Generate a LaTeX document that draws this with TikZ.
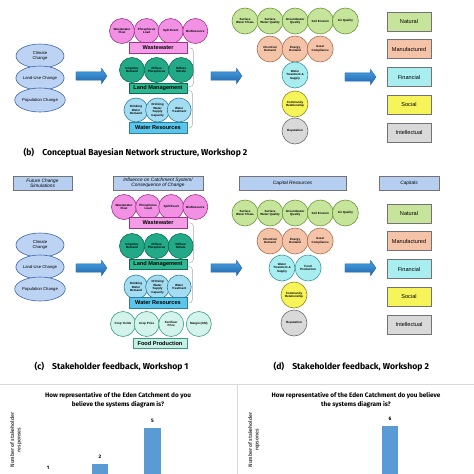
\documentclass[tikz,border=0pt]{standalone}
\usepackage{fontspec}
\setmainfont{Liberation Sans}
\newfontfamily\dinfont{Fira Sans}
\usepackage{xcolor}
\usepackage{tikz}
\usetikzlibrary{positioning,shapes.geometric,shapes.arrows}

\definecolor{drvfill}{HTML}{BDD3F3}
\definecolor{drvline}{HTML}{3F66A8}
\definecolor{pinkfill}{HTML}{F290E4}
\definecolor{pinkbox}{HTML}{F39DE7}
\definecolor{pinkline}{HTML}{A0308E}
\definecolor{tealfill}{HTML}{22A987}
\definecolor{tealbox}{HTML}{2DB891}
\definecolor{tealline}{HTML}{0E6A52}
\definecolor{aquafill}{HTML}{A4DDF2}
\definecolor{aquabox}{HTML}{5CC6EA}
\definecolor{aqualine}{HTML}{2B7FA3}
\definecolor{mintfill}{HTML}{D3F4EA}
\definecolor{mintbox}{HTML}{C4EFE2}
\definecolor{mintline}{HTML}{3B9C84}
\definecolor{natfill}{HTML}{C6E59B}
\definecolor{natline}{HTML}{6A963A}
\definecolor{manfill}{HTML}{F5C4A8}
\definecolor{manline}{HTML}{A8704F}
\definecolor{finfill}{HTML}{A8EEF0}
\definecolor{finline}{HTML}{3A97A3}
\definecolor{socfill}{HTML}{F7F45A}
\definecolor{socline}{HTML}{8E8B1E}
\definecolor{intfill}{HTML}{D9D9D9}
\definecolor{intline}{HTML}{6E6E6E}
\definecolor{hdrfill}{HTML}{B6CFF1}
\definecolor{arrlight}{HTML}{4AA3E6}
\definecolor{arrdark}{HTML}{1D64A8}
\definecolor{barblue}{HTML}{5B9BD5}

\begin{document}
\begin{tikzpicture}[x=1pt, y=-1pt,
  every node/.style={font=\fontsize{5}{6}\selectfont},
  driver/.style={ellipse, draw=drvline, fill=drvfill, line width=0.6pt,
    minimum width=48pt, minimum height=24pt, inner sep=0pt, align=center,
    font=\fontsize{4.2}{4.8}\selectfont},
  var/.style={circle, line width=0.6pt, minimum size=25pt, inner sep=0pt,
    align=center, font=\bfseries\fontsize{3}{3.5}\selectfont},
  wwvar/.style={var, fill=pinkfill, draw=pinkline},
  lmvar/.style={var, fill=tealfill, draw=tealline},
  wrvar/.style={var, fill=aquafill, draw=aqualine, minimum size=24pt},
  fpvar/.style={var, fill=mintfill, draw=mintline},
  natvar/.style={var, fill=natfill, draw=natline, minimum size=26pt},
  manvar/.style={var, fill=manfill, draw=manline, minimum size=26pt},
  finvar/.style={var, fill=finfill, draw=finline, minimum size=26pt},
  socvar/.style={var, fill=socfill, draw=socline, minimum size=26pt},
  intvar/.style={var, fill=intfill, draw=intline, minimum size=26pt},
  group/.style={line width=0.6pt, minimum width=58pt, minimum height=10.5pt,
    inner sep=0pt, font=\bfseries\fontsize{5.6}{6}\selectfont},
  capital/.style={draw=black!55, line width=0.8pt, minimum width=44pt,
    minimum height=19pt, inner sep=0pt, font=\fontsize{5.6}{6}\selectfont},
  header/.style={draw=black!55, fill=hdrfill, line width=0.6pt, inner sep=0pt,
    minimum height=14pt, align=center, font=\itshape\fontsize{4.8}{5.4}\selectfont},
  bigarr/.style={single arrow, single arrow head extend=3.5pt,
    single arrow tip angle=110, single arrow head indent=0pt,
    minimum height=31pt, inner sep=0pt, line width=0.4pt,
    draw=arrdark, top color=arrlight, bottom color=arrdark},
  link/.style={draw=black!35, line width=0.4pt, rounded corners=3pt},
  caption/.style={anchor=west, font=\dinfont\bfseries\fontsize{8.6}{10}\selectfont},
  qtitle/.style={align=center, font=\dinfont\bfseries\fontsize{6.4}{9.6}\selectfont},
  axlabel/.style={rotate=90, align=center, text=black!70,
    font=\dinfont\bfseries\fontsize{5.2}{6.6}\selectfont},
  barval/.style={font=\dinfont\bfseries\fontsize{5}{6}\selectfont},
  bar/.style={fill=barblue}
]
  \useasboundingbox (0,0) rectangle (474,474);

  % (b) drivers
  \node[driver] (bClim) at (40,56) {Climate\\Change};
  \node[driver] (bLand) at (40,78) {Land-Use Change};
  \node[driver] (bPop) at (40,100) {Population Change};
  \node[bigarr] (bArr1) at (90,76) {\rule{0pt}{8pt}};

  % (b) catchment system
  \node[wwvar] (bWw1) at (122,31) {Wastewater\\Flow};
  \node[wwvar, right=-1pt of bWw1] (bWw2) {Phosphorus\\Load};
  \node[wwvar, right=-1.5pt of bWw2] (bWw3) {Spill Event};
  \node[wwvar, right=-1pt of bWw3] (bWw4) {BioResource};
  \node[group, fill=pinkbox, draw=pinkline] (bWw) at (158,48) {Wastewater};
  \node[lmvar] (bLm1) at (132,70) {Irrigation\\Demand};
  \node[lmvar, right=-1pt of bLm1] (bLm2) {Diffuse\\Phosphorus};
  \node[lmvar, right=-1pt of bLm2] (bLm3) {Diffuse\\Nitrate};
  \node[group, fill=tealbox, draw=tealline] (bLm) at (158,88.5) {Land Management};
  \node[wrvar] (bWr1) at (136,110) {Drinking\\Water\\Demand};
  \node[wrvar, right=-3pt of bWr1] (bWr2) {Drinking\\Water\\Supply\\Capacity};
  \node[wrvar, right=-3pt of bWr2] (bWr3) {Water\\Treatment};
  \node[group, fill=aquabox, draw=aqualine] (bWr) at (158,128) {Water Resources};
  \draw[link] (bWw.east) -- ++(6,0) |- ([yshift=2pt]bLm.east);
  \draw[link] ([yshift=-2pt]bLm.east) -- ++(5,0) |- (bWr.east);
  \node[bigarr] (bArr2) at (225,76) {\rule{0pt}{8pt}};

  % (b) capital resources
  \node[natvar] (bNat1) at (245,21) {Surface\\Water Flows};
  \node[natvar, right=-1.5pt of bNat1] (bNat2) {Surface\\Water Quality};
  \node[natvar, right=-1.5pt of bNat2] (bNat3) {Groundwater\\Quality};
  \node[natvar, right=-1.5pt of bNat3] (bNat4) {Soil Erosion};
  \node[natvar, right=-1.5pt of bNat4] (bNat5) {Air Quality};
  \node[manvar] (bMan1) at (270,49) {Chemical\\Demand};
  \node[manvar, right=-1.5pt of bMan1] (bMan2) {Energy\\Demand};
  \node[manvar, right=-1.5pt of bMan2] (bMan3) {Asset\\Compliance};
  \node[finvar] (bFin1) at (295,75) {Water\\Treatment \&\\Supply};
  \node[socvar] (bSoc1) at (295,104) {Community\\Relationship};
  \node[intvar] (bInt1) at (295,131) {Reputation};
  \node[bigarr] (bArr3) at (359,77) {\rule{0pt}{8pt}};

  % (b) capitals
  \node[capital, fill=natfill] (bNat) at (409,21.5) {Natural};
  \node[capital, fill=manfill, below=8pt of bNat] (bMan) {Manufactured};
  \node[capital, fill=finfill, below=8pt of bMan] (bFin) {Financial};
  \node[capital, fill=socfill, below=8pt of bFin] (bSoc) {Social};
  \node[capital, fill=intfill, below=8pt of bSoc] (bInt) {Intellectual};
  \node[caption] (capB) at (20,153) {(b)\hspace{8pt}Conceptual Bayesian Network structure, Workshop 2};

  % (c)/(d) headers
  \node[header, minimum width=59pt] (cHdr1) at (42.5,183) {Future Change\\Simulations};
  \node[header, minimum width=90pt] (cHdr2) at (158,183) {Influence on Catchment System/\\Consequence of Change};
  \node[header, minimum width=107pt] (dHdr1) at (292.5,183) {Capital Resources};
  \node[header, minimum width=60pt] (dHdr2) at (409,183) {Capitals};

  % (c) drivers
  \node[driver] (cClim) at (40,245) {Climate\\Change};
  \node[driver] (cLand) at (40,267) {Land-Use Change};
  \node[driver] (cPop) at (40,289) {Population Change};
  \node[bigarr] (cArr1) at (90,268) {\rule{0pt}{8pt}};

  % (c) catchment system
  \node[wwvar] (cWw1) at (124,207) {Wastewater\\Flow};
  \node[wwvar, right=-1.5pt of cWw1] (cWw2) {Phosphorus\\Load};
  \node[wwvar, right=-2.5pt of cWw2] (cWw3) {Spill Event};
  \node[wwvar, right=-1.5pt of cWw3] (cWw4) {BioResource};
  \node[group, fill=pinkbox, draw=pinkline] (cWw) at (158,223) {Wastewater};
  \node[lmvar] (cLm1) at (132,246) {Irrigation\\Demand};
  \node[lmvar, right=-1pt of cLm1] (cLm2) {Diffuse\\Phosphorus};
  \node[lmvar, right=-1.5pt of cLm2] (cLm3) {Diffuse\\Nitrate};
  \node[group, fill=tealbox, draw=tealline] (cLm) at (158,264.5) {Land Management};
  \node[wrvar] (cWr1) at (136,287) {Drinking\\Water\\Demand};
  \node[wrvar, right=-3pt of cWr1] (cWr2) {Drinking\\Water\\Supply\\Capacity};
  \node[wrvar, right=-3pt of cWr2] (cWr3) {Water\\Treatment};
  \node[group, fill=aquabox, draw=aqualine] (cWr) at (158,303) {Water Resources};
  \node[fpvar] (cFp1) at (123,324) {Crop Yields};
  \node[fpvar, right=-2pt of cFp1] (cFp2) {Crop Price};
  \node[fpvar, right=-1pt of cFp2] (cFp3) {Fertiliser\\Price};
  \node[fpvar, right=2pt of cFp3] (cFp4) {Margin (GM)};
  \node[group, fill=mintbox, draw=mintline, minimum width=54pt] (cFp) at (160,343.5) {Food Production};
  \draw[link] (cWw.east) -- ++(6,0) |- ([yshift=2pt]cLm.east);
  \draw[link] ([yshift=-2pt]cLm.east) -- ++(5,0) |- (cWr.east);
  \node[bigarr] (cArr2) at (225,268) {\rule{0pt}{8pt}};

  % (d) capital resources
  \node[natvar] (dNat1) at (245,213) {Surface\\Water Flows};
  \node[natvar, right=-1.5pt of dNat1] (dNat2) {Surface\\Water Quality};
  \node[natvar, right=-1.5pt of dNat2] (dNat3) {Groundwater\\Quality};
  \node[natvar, right=-1.5pt of dNat3] (dNat4) {Soil Erosion};
  \node[natvar, right=-1.5pt of dNat4] (dNat5) {Air Quality};
  \node[manvar] (dMan1) at (270,241) {Chemical\\Demand};
  \node[manvar, right=-1.5pt of dMan1] (dMan2) {Energy\\Demand};
  \node[manvar, right=-1.5pt of dMan2] (dMan3) {Asset\\Compliance};
  \node[finvar] (dFin1) at (282,268) {Water\\Treatment \&\\Supply};
  \node[finvar, right=-0.5pt of dFin1] (dFin2) {Food\\Production};
  \node[socvar] (dSoc1) at (294,295) {Community\\Relationship};
  \node[intvar] (dInt1) at (294,323) {Reputation};
  \node[bigarr] (dArr) at (359,268) {\rule{0pt}{8pt}};

  % (d) capitals
  \node[capital, fill=natfill] (dNat) at (409,213.5) {Natural};
  \node[capital, fill=manfill, below=8pt of dNat] (dMan) {Manufactured};
  \node[capital, fill=finfill, below=8pt of dMan] (dFin) {Financial};
  \node[capital, fill=socfill, below=8pt of dFin] (dSoc) {Social};
  \node[capital, fill=intfill, below=8pt of dSoc] (dInt) {Intellectual};
  \node[caption] (capC) at (31,367) {(c)\hspace{8pt}Stakeholder feedback, Workshop 1};
  \node[caption] (capD) at (270,367) {(d)\hspace{8pt}Stakeholder feedback, Workshop 2};

  % stakeholder charts
  \begin{scope}
    \clip (0,0) rectangle (474,474);
    \draw[black!15] (0,384) -- (474,384);
    \draw[black!15] (237,384) -- (237,474);
    \node[qtitle] (qL) at (118,400) {How representative of the Eden Catchment do you\\believe the systems diagram is?};
    \node[axlabel] (yL) at (16,440) {Number of stakeholder\\responses};
    \fill[bar] (92,464) rectangle (108,490);
    \fill[bar] (144,428) rectangle (161,490);
    \node[barval] (vL1) at (48,468) {1};
    \node[barval] (vL2) at (100,457) {2};
    \node[barval] (vL5) at (152.5,421) {5};
    \node[qtitle] (qR) at (356,400) {How representative of the Eden Catchment do you believe\\the systems diagram is?};
    \node[axlabel] (yR) at (254,440) {Number of stakeholder\\repsones};
    \fill[bar] (382,426) rectangle (398,490);
    \node[barval] (vR6) at (390,419) {6};
  \end{scope}
\end{tikzpicture}
\end{document}
